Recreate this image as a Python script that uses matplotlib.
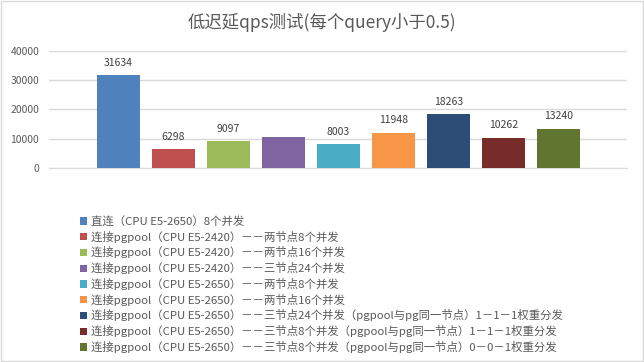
import matplotlib
matplotlib.use('Agg')
import matplotlib.pyplot as plt
from matplotlib.patches import Rectangle

plt.rcParams['font.family'] = ['Noto Sans CJK SC', 'DejaVu Sans']

# ======================
# DATA
# ======================
title = '低迟延qps测试(每个query小于0.5)'
labels = [
    '直连（CPU E5-2650）8个并发',
    '连接pgpool（CPU E5-2420）－－两节点8个并发',
    '连接pgpool（CPU E5-2420）－－两节点16个并发',
    '连接pgpool（CPU E5-2420）－－三节点24个并发',
    '连接pgpool（CPU E5-2650）－－两节点8个并发',
    '连接pgpool（CPU E5-2650）－－两节点16个并发',
    '连接pgpool（CPU E5-2650）－－三节点24个并发（pgpool与pg同一节点）1－1－1权重分发',
    '连接pgpool（CPU E5-2650）－－三节点8个并发（pgpool与pg同一节点）1－1－1权重分发',
    '连接pgpool（CPU E5-2650）－－三节点8个并发（pgpool与pg同一节点）0－0－1权重分发',
]
values = [31634, 6298, 9097, 10600, 8003, 11948, 18263, 10262, 13240]
shown = [True, True, True, False, True, True, True, True, True]
colors = ['#4F81BD', '#C0504D', '#9BBB59', '#8064A2', '#4BACC6',
          '#F79646', '#2C4D75', '#772C2A', '#5F7530']
yticks = [0, 10000, 20000, 30000, 40000]

# ======================
# PLOT
# ======================
fig = plt.figure(figsize=(6.44, 3.62), dpi=100)
fig.patches.append(Rectangle((0.001, 0.002), 0.997, 0.995, transform=fig.transFigure,
                             fill=False, edgecolor='#D9D9D9', linewidth=1))
ax = fig.add_axes([49/644, 1 - 167.7/362, 578/644, (167.7 - 51)/362])

for i, v in enumerate(values):
    ax.bar(i, v, width=0.78, color=colors[i], label=labels[i], zorder=3)
    if shown[i]:
        ax.annotate(str(v), (i, v), xytext=(0, 5.5), textcoords='offset points',
                    ha='center', va='bottom', fontsize=7.5, color='#404040')

ax.set_xlim(-1.26, 9.24)
ax.set_ylim(0, 40000)
ax.set_yticks(yticks)
ax.set_yticklabels([str(t) for t in yticks])
ax.set_xticks([])
ax.grid(axis='y', color='#D9D9D9', linewidth=1, zorder=0)
for s in ['top', 'right', 'left']:
    ax.spines[s].set_visible(False)
ax.spines['bottom'].set_color('#D9D9D9')
ax.tick_params(axis='y', length=0, labelsize=7.5, labelcolor='#595959', pad=7)

fig.text(0.5, 1 - 22/362, title, ha='center', va='center', fontsize=12.5, color='#595959')

fig.legend(loc='upper left', bbox_to_anchor=(80/644, 1 - 216/362), frameon=False,
           fontsize=8.2, labelcolor='#595959', handlelength=0.6, handleheight=0.6,
           handletextpad=0.4, labelspacing=0.33, borderaxespad=0, borderpad=0)

fig.savefig('out.png', dpi=100)
